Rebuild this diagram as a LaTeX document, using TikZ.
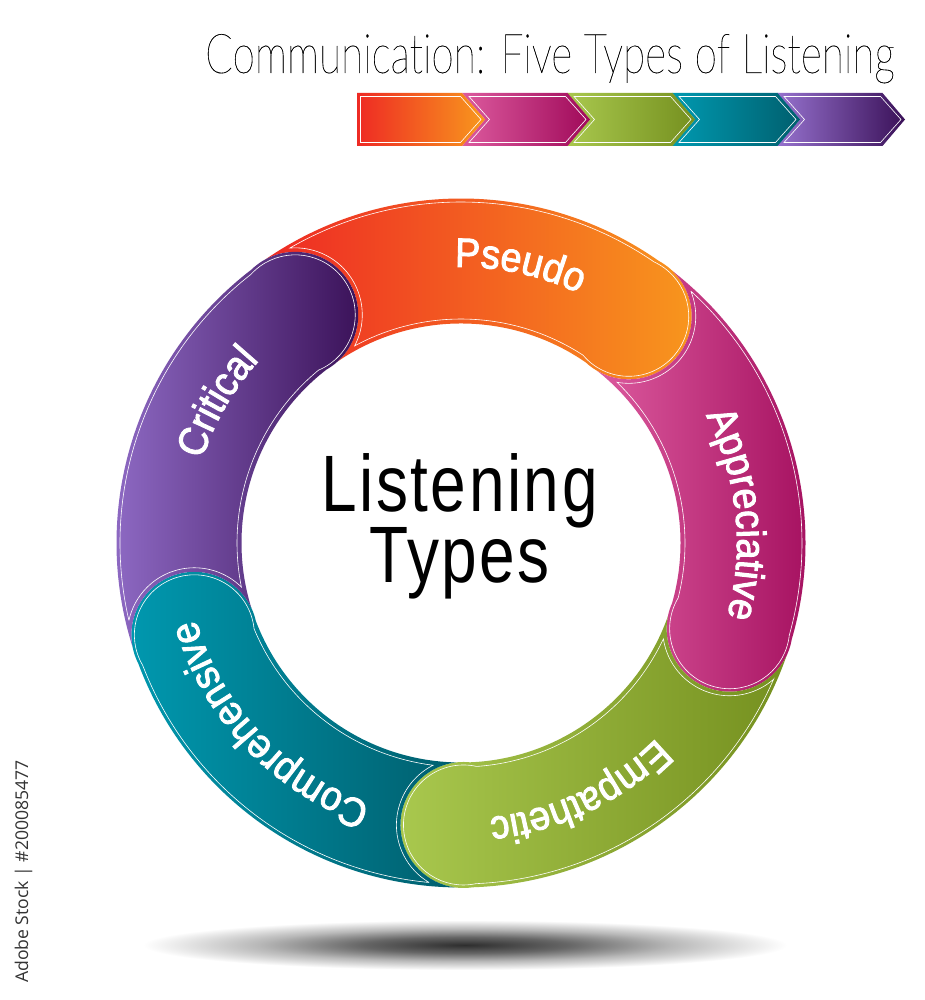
\documentclass[tikz,border=0pt]{standalone}
\usepackage{fontspec}
\usetikzlibrary{decorations.text}
\setmainfont{Liberation Sans}
\newfontfamily\thinfont[FakeStretch=0.738,FakeBold=0.25,Ligatures=NoCommon]{Lato Hairline}
\newfontfamily\centerfont[FakeStretch=0.8,LetterSpace=3.2]{Liberation Sans}
\newfontfamily\segfont[FakeStretch=0.92,FakeBold=2.2]{Liberation Sans}
\newfontfamily\stockfont{Open Sans}
\definecolor{c1a}{HTML}{EE2A24}\definecolor{c1b}{HTML}{F8981D}
\definecolor{c2a}{HTML}{DC5A9E}\definecolor{c2b}{HTML}{A00A5A}
\definecolor{c3a}{HTML}{A9C84E}\definecolor{c3b}{HTML}{75901F}
\definecolor{c4a}{HTML}{0099B0}\definecolor{c4b}{HTML}{005F6E}
\definecolor{c5a}{HTML}{9672CE}\definecolor{c5b}{HTML}{3A1158}
\pgfdeclareradialshading{shadowfade}{\pgfpoint{0bp}{0bp}}{color(0bp)=(black!82);color(8bp)=(black!60);color(16bp)=(black!28);color(25bp)=(white);color(50bp)=(white)}
\tikzset{inline/.style={draw=white,line width=0.6pt,line join=miter}}
% segment: {own cap angle}{previous cap angle}{colour name}
\newcommand{\ringseg}[3]{%
 \def\pa{#2}%
 \shade[left color=#3a,right color=#3b]
   ({\pa-1.46}:344.5) arc[start angle=\pa-1.46,end angle=#1+1.46,radius=344.5]
   arc[start angle=#1+8,end angle=#1-186.39,radius=63]
   arc[start angle=#1+1.83,end angle=\pa-1.83,radius=219.5]
   arc[start angle=\pa-173.61,end angle=\pa-8,radius=63] -- cycle;
 \draw[inline]
   ({\pa-5.87}:341) arc[start angle=\pa-5.87,end angle=#1+2.02,radius=341]
   arc[start angle=#1+11.56,end angle=#1-193.17,radius=60]
   arc[start angle=#1+3.5,end angle=\pa-7.65,radius=224]
   arc[start angle=\pa-153.6,end angle=\pa-31.4,radius=67] -- cycle;
}
\newcommand{\ringlabel}[3]{%
 \path[decorate,decoration={text along path,text align=center,
   text={|\segfont\fontsize{41}{41}\selectfont\color{white}|#3}}]
   ({#1+45}:#2) arc[start angle=#1+45,end angle=#1-45,radius=#2];
}
% chevron k>=2: {horizontal offset}{colour}
\newcommand{\chevron}[2]{%
 \begin{scope}[xshift=#1pt]
 \shade[left color=#2a,right color=#2b]
   (462,907)--(567.5,907)--(590,880.5)--(567.5,854)--(462,854)--(485,880.5)--cycle;
 \draw[inline] (469,903.5)--(565.5,903.5)--(586,880.5)--(565.5,857.5)--(469,857.5)--(489.5,880.5)--cycle;
 \end{scope}
}
\begin{document}
\begin{tikzpicture}[x=1pt,y=1pt]
\useasboundingbox (0,0) rectangle (924,1000);
\fill[white] (0,0) rectangle (924,1000);
% title
\node[anchor=base west,inner sep=0pt,font=\thinfont\fontsize{55}{55}\selectfont,text=black] (title) at (205,927) {Communication: Five Types of Listening};
% chevrons
\chevron{315}{c5}
\chevron{210}{c4}
\chevron{105}{c3}
\chevron{0}{c2}
\shade[left color=c1a,right color=c1b]
  (357,907)--(462,907)--(485,880.5)--(462,854)--(357,854)--cycle;
\draw[inline] (360.5,903.5)--(460.5,903.5)--(481,880.5)--(460.5,857.5)--(360.5,857.5)--cycle;
% shadow
\shade[shading=shadowfade] (465,55) ellipse [x radius=322,y radius=25];
% ring
\begin{scope}[shift={(461,457)}]
\ringseg{53.5}{126}{c1}
\ringseg{-17.7}{53.5}{c2}
\ringseg{-89.5}{-17.7}{c3}
\ringseg{-161}{-89.5}{c4}
\ringseg{-234}{-161}{c5}
\ringlabel{78}{276}{Pseudo}
\ringlabel{6}{276}{Appreciative}
\ringlabel{-64.5}{276}{Empathetic}
\ringlabel{-136.5}{276}{Comprehensive}
\ringlabel{150}{272}{Critical}
\end{scope}
% centre
\node[anchor=base,inner sep=0pt,font=\centerfont\fontsize{80}{80}\selectfont] (l1) at (459.5,488) {Listening};
\node[anchor=base,inner sep=0pt,font=\centerfont\fontsize{80}{80}\selectfont] (l2) at (459.5,417) {Types};
\node[rotate=90,anchor=base west,inner sep=0pt,text=black!80,font=\stockfont\fontsize{17.6}{17.6}\selectfont] (stock) at (28,17) {Adobe Stock | \#200085477};
\end{tikzpicture}
\end{document}
